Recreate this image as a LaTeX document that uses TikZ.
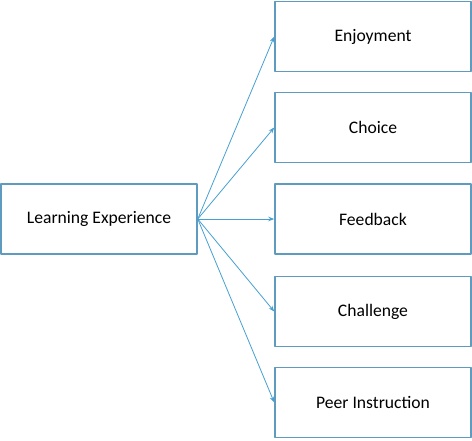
\documentclass[tikz,border=0pt]{standalone}
\usepackage{fontspec}
\setmainfont{Carlito}
\usetikzlibrary{arrows.meta}
\definecolor{boxblue}{RGB}{95,155,190}
\definecolor{arrowblue}{RGB}{70,160,210}
\tikzset{
  factor/.style={draw=boxblue, line width=1.5pt, minimum width=196pt, minimum height=70pt, inner sep=0pt, font=\fontsize{17.6}{21}\selectfont},
  link/.style={draw=arrowblue, line width=0.8pt, -{Stealth[length=6pt,width=4.5pt]}}
}
\begin{document}
\begin{tikzpicture}[x=1pt,y=-1pt, line cap=round,line join=round]
    \useasboundingbox (0,0) rectangle (472,440);
    \node [factor] (learn) at (99,219) {Learning Experience};
    \node [factor] (enjoy) at (373,36.5) {Enjoyment};
    \node [factor] (choice) at (373,127.5) {Choice};
    \node [factor] (feed) at (373,219) {Feedback};
    \node [factor] (chall) at (373,311.5) {Challenge};
    \node [factor] (peer) at (373,402.5) {Peer Instruction};
    \draw [link] (learn.east) -- (enjoy.west);
    \draw [link] (learn.east) -- (choice.west);
    \draw [link] (learn.east) -- (feed.west);
    \draw [link] (learn.east) -- (chall.west);
    \draw [link] (learn.east) -- (peer.west);
\end{tikzpicture}
\end{document}
